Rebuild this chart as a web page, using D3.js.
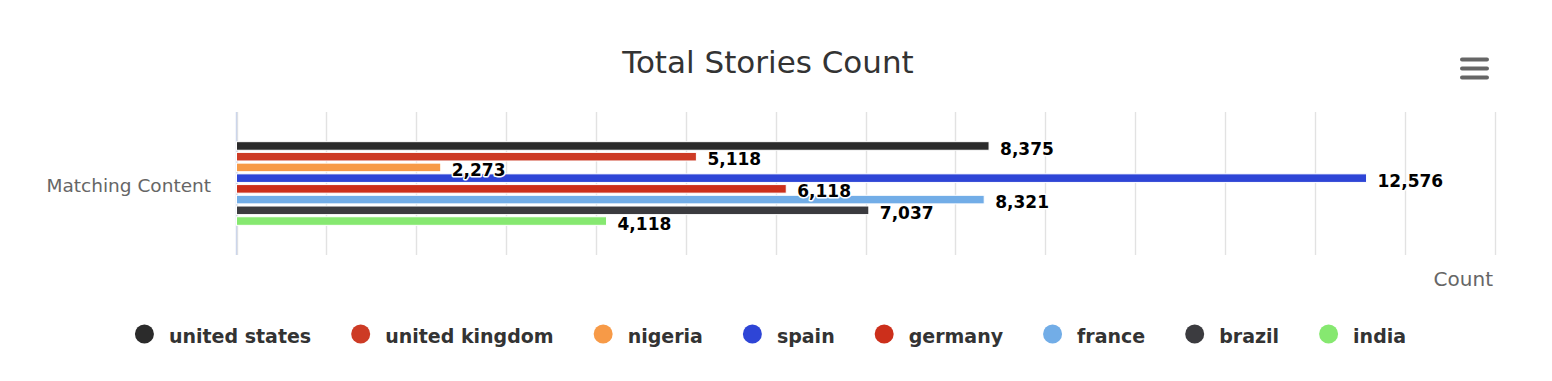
<!DOCTYPE html>
<html>
<head>
<meta charset="utf-8">
<script src="https://cdn.jsdelivr.net/npm/d3@7"></script>
<style>
  html, body { margin: 0; padding: 0; background: #fff; }
  svg { display: block; font-family: "DejaVu Sans", Verdana, sans-serif; }
</style>
</head>
<body>
<div id="chart"></div>
<script>
const categories = ['Matching Content'];
const seriesNames = ['united states', 'united kingdom', 'nigeria', 'spain', 'germany', 'france', 'brazil', 'india'];
const seriesValues = [8375, 5118, 2273, 12576, 6118, 8321, 7037, 4118];
const seriesColors = ['#2b2b2b', '#cd3b25', '#f79a47', '#2e45d6', '#cc2f1b', '#72ade7', '#3b3b3f', '#86e870'];
const xTicks = d3.range(0, 14001, 1000);

const width = 1552, height = 381;
const plot = { left: 236.5, right: 1494.5, top: 112, bottom: 255 };

const svg = d3.select('#chart').append('svg')
  .attr('width', width)
  .attr('height', height);

// Title
svg.append('text')
  .attr('x', 768)
  .attr('y', 73)
  .attr('text-anchor', 'middle')
  .attr('font-size', '31px')
  .attr('fill', '#333333')
  .text('Total Stories Count');

// Export menu icon
[59.5, 68.5, 77.5].forEach(y => {
  svg.append('line')
    .attr('x1', 1462).attr('x2', 1487)
    .attr('y1', y).attr('y2', y)
    .attr('stroke', '#666666')
    .attr('stroke-width', 4)
    .attr('stroke-linecap', 'round');
});

const x = d3.scaleLinear().domain([0, 14000]).range([plot.left, plot.right]);
const yCat = d3.scaleBand().domain(categories).range([plot.top, plot.bottom]);
const ySeries = d3.scaleBand().domain(seriesNames)
  .range([yCat('Matching Content') + yCat.bandwidth() * 0.2, yCat('Matching Content') + yCat.bandwidth() * 0.8])
  .paddingInner(0.2).paddingOuter(0.1);

// Grid lines
svg.append('g')
  .selectAll('line')
  .data(xTicks)
  .enter()
  .append('line')
  .attr('x1', d => Math.round(x(d)) + 0.5)
  .attr('x2', d => Math.round(x(d)) + 0.5)
  .attr('y1', plot.top)
  .attr('y2', plot.bottom)
  .attr('stroke', '#e2e2e2')
  .attr('stroke-width', 1.4);

// Axis line (left)
svg.append('line')
  .attr('x1', plot.left).attr('x2', plot.left)
  .attr('y1', plot.top).attr('y2', plot.bottom)
  .attr('stroke', '#ccd6eb')
  .attr('stroke-width', 1.5);

// Category label
svg.append('text')
  .attr('x', 211)
  .attr('y', yCat('Matching Content') + yCat.bandwidth() / 2 + 8.5)
  .attr('text-anchor', 'end')
  .attr('font-size', '18.5px')
  .attr('fill', '#666666')
  .text(categories[0]);

// Axis title
svg.append('text')
  .attr('x', 1493)
  .attr('y', 285.5)
  .attr('text-anchor', 'end')
  .attr('font-size', '20px')
  .attr('fill', '#666666')
  .text('Count');

// Bars
const rows = seriesNames.map((name, i) => ({ name, value: seriesValues[i], color: seriesColors[i] }));

svg.append('g')
  .selectAll('rect')
  .data(rows)
  .enter()
  .append('rect')
  .attr('x', x(0))
  .attr('y', d => ySeries(d.name))
  .attr('width', d => x(d.value) - x(0))
  .attr('height', ySeries.bandwidth())
  .attr('fill', d => d.color)
  .attr('stroke', '#ffffff')
  .attr('stroke-width', 1);

// Data labels
svg.append('g')
  .selectAll('text')
  .data(rows)
  .enter()
  .append('text')
  .attr('x', d => x(d.value) + 11)
  .attr('y', d => ySeries(d.name) + ySeries.bandwidth() / 2 + 2.5)
  .attr('dy', '0.36em')
  .attr('font-size', '17px')
  .attr('font-weight', 'bold')
  .attr('fill', '#000000')
  .attr('stroke', '#ffffff')
  .attr('stroke-width', 3)
  .attr('stroke-linejoin', 'round')
  .attr('paint-order', 'stroke')
  .text(d => d3.format(',')(d.value));

// Legend
const legend = svg.append('g');
const gap = 40;
let cursor = 0;
rows.forEach(d => {
  const item = legend.append('g').attr('transform', `translate(${cursor},0)`);
  item.append('circle')
    .attr('cx', 9.5)
    .attr('cy', 334)
    .attr('r', 9.5)
    .attr('fill', d.color);
  const t = item.append('text')
    .attr('x', 34)
    .attr('y', 343)
    .attr('font-size', '19px')
    .attr('font-weight', 'bold')
    .attr('fill', '#333333')
    .text(d.name);
  cursor += 34 + t.node().getComputedTextLength() + gap;
});
const legendWidth = cursor - gap;
legend.attr('transform', `translate(${770.5 - legendWidth / 2},0)`);
</script>
</body>
</html>
